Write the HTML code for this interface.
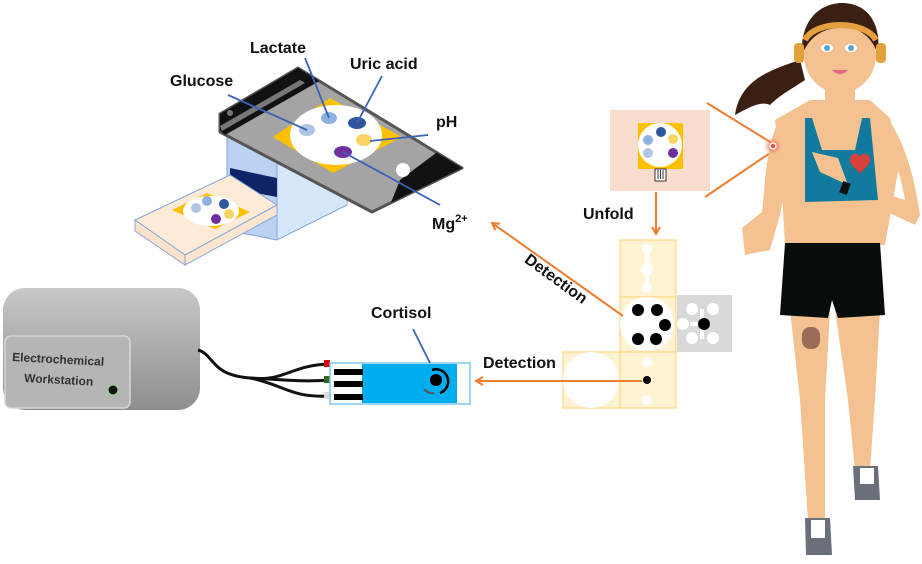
<!DOCTYPE html>
<html><head><meta charset="utf-8"><style>
html,body{margin:0;padding:0;background:#fff;width:922px;height:564px;overflow:hidden}
text{font-family:"Liberation Sans",Arial,sans-serif;font-weight:bold;fill:#111}
</style></head><body>
<svg width="922" height="564" viewBox="0 0 922 564" xmlns="http://www.w3.org/2000/svg">
<defs>
<marker id="ah" markerWidth="10" markerHeight="10" refX="8" refY="5" orient="auto" markerUnits="userSpaceOnUse">
<path d="M1,1 L8,5 L1,9" fill="none" stroke="#ed7d31" stroke-width="2"/></marker>
<radialGradient id="glow"><stop offset="0" stop-color="#e53030"/><stop offset="1" stop-color="#f4c290" stop-opacity="0"/></radialGradient>
<linearGradient id="boxg" x1="0" y1="0" x2="0" y2="1"><stop offset="0" stop-color="#c8c8c8"/><stop offset="1" stop-color="#8e8e8e"/></linearGradient>
<clipPath id="ph"><polygon points="220,114 298,68 462,168 372,212 220,132"/></clipPath>
</defs>

<!-- Blue reader box -->
<polygon points="227,125 300,100 350,150 347,205 277,240 227,230" fill="#d6e6fb" stroke="#8aa7d8" stroke-width="1"/>
<polygon points="227,125 277,140 277,240 227,230" fill="#bcd2f2" stroke="#8aa7d8" stroke-width="1"/>
<polygon points="230,168 277,178 277,197 230,188" fill="#0f2466"/>
<!-- tray -->
<polygon points="135,220 230,175 277,205 185,255" fill="#fdebd8" stroke="#8aa7d8" stroke-width="1"/>
<polygon points="135,220 185,255 185,265 135,231" fill="#fbe3cb" stroke="#8aa7d8" stroke-width="1"/>
<polygon points="185,255 277,205 277,215 185,265" fill="#fce6cf" stroke="#8aa7d8" stroke-width="1"/>
<polygon points="172,210 207,193 250,212 215,229" fill="#ffc000"/>
<ellipse cx="211" cy="211" rx="28" ry="15" fill="#fff"/>
<circle cx="196" cy="208" r="5" fill="#b0c4e8"/><circle cx="207" cy="201" r="5" fill="#8fb0e0"/>
<circle cx="224" cy="204" r="5" fill="#2f559c"/><circle cx="229" cy="214" r="5" fill="#f8d563"/>
<circle cx="216" cy="219" r="5" fill="#7030a0"/>

<!-- Phone -->
<polygon points="220,114 298,68 462,168 372,212 220,132" fill="#a4a4a4" stroke="#555" stroke-width="3" stroke-linejoin="round"/>
<g clip-path="url(#ph)">
<polygon points="200,110 300,50 330,75 225,135" fill="#111"/>
<polygon points="400,180 440,150 480,170 470,220 380,230" fill="#111"/>
<polygon points="220,126 300,80 305,83 222,131" fill="#777"/>
</g>
<circle cx="403" cy="170" r="7" fill="#fff"/>
<circle cx="230" cy="113" r="3" fill="#777"/>
<polygon points="273,137 330,98 402,137 333,173" fill="#ffc000"/>
<ellipse cx="336" cy="135" rx="46" ry="30" fill="#fff"/>
<ellipse cx="307" cy="130" rx="8" ry="6" fill="#b0c4e8"/>
<ellipse cx="329" cy="118" rx="8" ry="6" fill="#8fb0e0"/>
<ellipse cx="357" cy="123" rx="9" ry="6" fill="#2f559c"/>
<ellipse cx="364" cy="140" rx="8" ry="6" fill="#f8d563"/>
<ellipse cx="343" cy="152" rx="9" ry="6" fill="#7030a0"/>
<g stroke="#3a64b8" stroke-width="1.8">
<line x1="305" y1="58" x2="329" y2="118"/><line x1="382" y1="76" x2="357" y2="123"/>
<line x1="228" y1="95" x2="307" y2="130"/><line x1="428" y1="135" x2="370" y2="141"/>
<line x1="440" y1="205" x2="343" y2="152"/></g>
<text x="250" y="53" font-size="16">Lactate</text>
<text x="350" y="69" font-size="16">Uric acid</text>
<text x="170" y="86" font-size="16">Glucose</text>
<text x="436" y="127" font-size="16">pH</text>
<text x="432" y="229" font-size="16">Mg<tspan font-size="11" dy="-7">2+</tspan></text>

<!-- Workstation -->
<rect x="3" y="288" width="197" height="122" rx="22" fill="url(#boxg)"/>
<rect x="5" y="336" width="125" height="72" rx="6" fill="#b5b5b5" stroke="#d8d8d8" stroke-width="1.5"/>
<text x="12" y="361" font-size="12" transform="rotate(3 12 361)" style="fill:#333">Electrochemical</text>
<text x="24" y="382" font-size="12" transform="rotate(3 24 382)" style="fill:#333">Workstation</text>
<circle cx="113" cy="390" r="5" fill="#111" stroke="#8fdc8f" stroke-width="1"/>
<!-- cables -->
<g fill="none" stroke="#111" stroke-width="3">
<path d="M198,350 C215,355 210,375 250,378 C285,382 290,365 330,364"/>
<path d="M250,378 C290,380 300,382 330,380"/>
<path d="M250,378 C285,385 290,398 330,396"/></g>
<rect x="324" y="360" width="6" height="7" fill="#d00"/>
<rect x="324" y="376" width="6" height="7" fill="#2e6b1e"/>
<rect x="324" y="392" width="6" height="7" fill="#ddd"/>
<!-- electrode -->
<rect x="330" y="363" width="140" height="41" fill="#fff" stroke="#7dc8ef" stroke-width="1.5"/>
<rect x="362" y="364" width="95" height="39" fill="#00aeef"/>
<rect x="334" y="369" width="29" height="6" fill="#000"/>
<rect x="334" y="381" width="29" height="6" fill="#000"/>
<rect x="334" y="394" width="29" height="6" fill="#000"/>
<circle cx="436" cy="380" r="6" fill="#000"/>
<path d="M432,370 A11,11 0 1 1 440,393" fill="none" stroke="#000" stroke-width="2.5"/>
<path d="M424,389 A11,11 0 0 0 434,393" fill="none" stroke="#555" stroke-width="2"/>
<line x1="413" y1="329" x2="430" y2="363" stroke="#3a64b8" stroke-width="1.8"/>
<text x="371" y="318" font-size="16">Cortisol</text>

<!-- paper device -->
<rect x="610" y="110" width="100" height="81" fill="#f8dccd"/>
<rect x="638" y="123" width="45" height="46" fill="#ffc000"/>
<circle cx="660" cy="145" r="22" fill="#fff"/>
<circle cx="661" cy="132" r="5" fill="#2f559c"/><circle cx="648" cy="140" r="5" fill="#8fb0e0"/>
<circle cx="673" cy="139" r="5" fill="#f8d563"/><circle cx="648" cy="153" r="5" fill="#b0c4e8"/>
<circle cx="673" cy="153" r="5" fill="#7030a0"/>
<rect x="655" y="169" width="11" height="12" fill="#fff" stroke="#000" stroke-width="0.8"/>
<g stroke="#000" stroke-width="0.8"><line x1="658" y1="170" x2="658" y2="179"/><line x1="660.5" y1="170" x2="660.5" y2="179"/><line x1="663" y1="170" x2="663" y2="179"/></g>
<line x1="707" y1="103" x2="775" y2="145" stroke="#ed7d31" stroke-width="2"/>
<line x1="705" y1="197" x2="773" y2="151" stroke="#ed7d31" stroke-width="2"/>
<line x1="656" y1="192" x2="656" y2="234" stroke="#ed7d31" stroke-width="2" marker-end="url(#ah)"/>
<text x="583" y="219" font-size="16">Unfold</text>

<!-- unfolded cross -->
<g fill="#fff3d3" stroke="#ffd98a" stroke-width="1.3">
<rect x="620" y="240" width="56" height="57"/><rect x="620" y="297" width="56" height="55"/>
<rect x="620" y="352" width="56" height="56"/><rect x="563" y="352" width="57" height="56"/></g>
<rect x="677" y="295" width="55" height="57" fill="#d9d9d9"/>
<g fill="#fff"><circle cx="647" cy="249" r="5"/><circle cx="647" cy="269" r="6"/><circle cx="647" cy="288" r="5"/>
<rect x="645" y="249" width="4" height="40"/>
<circle cx="647" cy="324" r="27"/><circle cx="647" cy="362" r="5"/><circle cx="647" cy="400" r="5"/>
<circle cx="591" cy="380" r="28"/>
<circle cx="692" cy="309" r="6"/><circle cx="713" cy="309" r="6"/><circle cx="692" cy="338" r="6"/><circle cx="713" cy="338" r="6"/><circle cx="683" cy="324" r="6"/>
<rect x="690" y="322" width="20" height="4"/><rect x="700" y="309" width="4" height="30"/></g>
<circle cx="704" cy="324" r="6" fill="#000"/>
<g fill="#000"><circle cx="638" cy="310" r="6"/><circle cx="657" cy="310" r="6"/><circle cx="665" cy="325" r="6"/>
<circle cx="638" cy="339" r="6"/><circle cx="656" cy="339" r="6"/><circle cx="647" cy="380" r="4"/></g>

<line x1="623" y1="316" x2="492" y2="223" stroke="#ed7d31" stroke-width="2" marker-end="url(#ah)"/>
<text x="553" y="283" font-size="16" text-anchor="middle" transform="rotate(36 553 283)">Detection</text>
<line x1="642" y1="381" x2="476" y2="381" stroke="#ed7d31" stroke-width="2" marker-end="url(#ah)"/>
<text x="483" y="368" font-size="16">Detection</text>

<!-- Woman -->
<g>
<path d="M800,60 C770,70 740,80 735,115 C745,110 760,100 770,105 C780,95 790,90 805,80 Z" fill="#3a1f12"/>
<path d="M790,310 L830,310 L825,400 L825,520 L808,520 L800,400 Z" fill="#f4c290"/>
<path d="M835,310 L880,310 L875,400 L870,470 L855,470 L848,400 Z" fill="#f4c290"/>
<path d="M805,518 L830,518 L832,555 L806,555 Z" fill="#6b6f7a"/>
<rect x="811" y="520" width="14" height="18" fill="#fff"/>
<path d="M853,466 L878,466 L880,500 L855,500 Z" fill="#6b6f7a"/>
<rect x="860" y="468" width="14" height="16" fill="#fff"/>
<path d="M810,100 L870,100 L890,118 L900,160 L885,245 L785,245 L780,160 L775,120 Z" fill="#f4c290"/>
<path d="M778,122 C765,150 765,190 762,212 L742,228 L745,255 L770,250 L780,215 C785,190 790,160 790,130 Z" fill="#f4c290"/>
<path d="M885,115 C905,140 915,180 920,215 L915,225 C895,215 870,205 848,193 L852,182 C870,188 890,195 905,200 C900,170 890,145 880,125 Z" fill="#f4c290"/>
<path d="M805,118 L812,118 L822,150 L855,150 L862,118 L870,118 L878,200 L805,202 Z" fill="#117a9e"/>
<path d="M850,160 c0,-8 10,-8 10,-2 c0,-6 10,-6 10,2 c0,6 -10,12 -10,14 c0,-2 -10,-8 -10,-14z" fill="#d8403a"/>
<path d="M812,152 L838,158 L848,185 L820,172 Z" fill="#f4c290"/>
<rect x="841" y="182" width="8" height="12" fill="#111" transform="rotate(20 845 188)"/>
<path d="M785,243 L880,243 L885,315 L838,318 L832,300 L828,318 L780,315 Z" fill="#070d0b"/>
<rect x="802" y="327" width="18" height="22" rx="8" fill="#9b6d58"/>
<rect x="825" y="80" width="30" height="30" fill="#f4c290"/>
<ellipse cx="840" cy="55" rx="36" ry="38" fill="#f4c290"/>
<path d="M802,55 C800,15 825,3 842,3 C865,3 882,20 878,55 C872,35 855,25 840,28 C825,28 810,35 802,55 Z" fill="#3a1f12"/>
<path d="M805,40 C815,20 865,20 876,40" fill="none" stroke="#e3a03c" stroke-width="6"/>
<rect x="794" y="43" width="10" height="20" rx="4" fill="#e3a03c"/>
<rect x="876" y="43" width="10" height="20" rx="4" fill="#e3a03c"/>
<ellipse cx="827" cy="48" rx="6" ry="4" fill="#fff"/><circle cx="827" cy="48" r="3" fill="#5ba0d0"/>
<ellipse cx="851" cy="48" rx="6" ry="4" fill="#fff"/><circle cx="851" cy="48" r="3" fill="#5ba0d0"/>
<path d="M832,70 Q840,78 848,70 Z" fill="#e46a84"/>
<circle cx="773" cy="146" r="10" fill="url(#glow)"/>
<circle cx="773" cy="146" r="3" fill="none" stroke="#fff" stroke-width="1.3"/>
</g>
</svg>
</body></html>
